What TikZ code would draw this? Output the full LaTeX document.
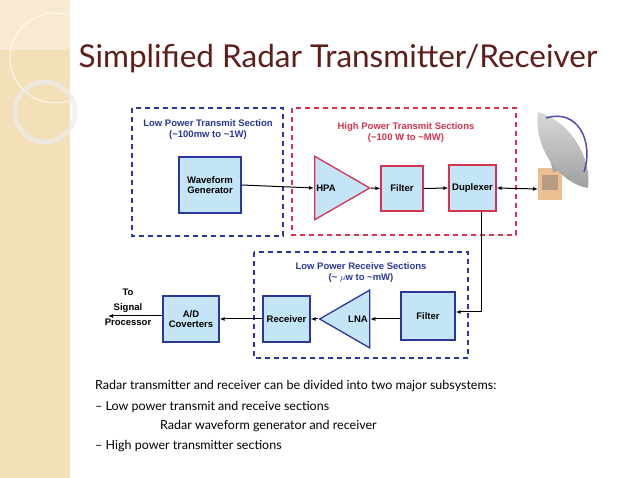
\documentclass[tikz,border=0pt]{standalone}
\usepackage{fontspec}
\setmainfont{Lato}
\newfontfamily\arialf{Liberation Sans}
\usetikzlibrary{arrows.meta,shapes.geometric}
\definecolor{bfill}{HTML}{C4E4F8}
\definecolor{bblue}{HTML}{2B379A}
\definecolor{rred}{HTML}{D5344F}
\definecolor{beige}{HTML}{F3E0B8}
\definecolor{ttl}{HTML}{5E1F1B}
\begin{document}
\begin{tikzpicture}[x=1pt,y=-1pt,
  blk/.style={draw=#1,line width=1.3pt,fill=bfill,font=\arialf\bfseries\fontsize{9.5}{10.5}\selectfont,align=center,inner sep=0pt},
  sec/.style={draw=#1,dashed,line width=1.6pt,dash pattern=on 5pt off 4pt},
  lab/.style={font=\arialf\bfseries\fontsize{9.5}{11}\selectfont,align=center,text=#1},
  arr/.style={-{Latex[length=5pt,width=4pt]},line width=1pt},
  body/.style={font=\fontsize{12.5}{14}\selectfont,anchor=west,inner sep=0pt}]
\useasboundingbox (0,0) rectangle (638,478);
\fill[white] (0,0) rectangle (638,478);
\fill[beige] (0,0) rectangle (70,478);
\fill[white,opacity=0.35] (0,0) rectangle (70,50);
\draw[white,line width=0.8pt,opacity=0.9] (55,58) circle (45);
\draw[white!85!gray,line width=5pt,opacity=0.7] (45,112) circle (30);
\node[font=\fontsize{31.5}{34}\selectfont,text=ttl] (title) at (338,59) {Simplified Radar Transmitter/Receiver};
% sections
\draw[sec=bblue] (132,108) rectangle (283,236);
\draw[sec=rred] (292,108) rectangle (516,235);
\draw[sec=bblue] (254,252) rectangle (468,358);
\node[lab=bblue] (l1) at (208,130) {Low Power Transmit Section\\(\textasciitilde100mw to \textasciitilde1W)};
\node[lab=rred] (l2) at (406,133) {High Power Transmit Sections\\(\textasciitilde100 W to \textasciitilde MW)};
\node[lab=bblue] (l3) at (361,273) {Low Power Receive Sections\\(\textasciitilde\ $\mu$w to \textasciitilde mW)};
% blocks
\node[blk=bblue,minimum width=62pt,minimum height=56pt] (wg) at (210,185) {Waveform\\Generator};
\node[blk=rred,isosceles triangle,isosceles triangle apex angle=60,minimum height=55pt,inner sep=0pt] (hpa) at (333,188) {};
\node[font=\arialf\bfseries\fontsize{9.5}{10.5}\selectfont] (hpal) at (326,188) {HPA};
\node[blk=rred,minimum width=42pt,minimum height=45pt] (ftx) at (402,188.5) {Filter};
\node[blk=rred,minimum width=47pt,minimum height=46pt] (dup) at (472.5,188) {Duplexer};
\node[blk=bblue,minimum width=54pt,minimum height=48pt] (frx) at (428,316) {Filter};
\node[blk=bblue,isosceles triangle,isosceles triangle apex angle=60,shape border rotate=180,minimum height=50pt,inner sep=0pt] (lna) at (353,319) {};
\node[font=\arialf\bfseries\fontsize{9.5}{10.5}\selectfont] (lnal) at (358,319) {LNA};
\node[blk=bblue,minimum width=47pt,minimum height=46pt] (rcv) at (286.5,319) {Receiver};
\node[blk=bblue,minimum width=56pt,minimum height=46pt] (ad) at (191,319) {A/D\\Coverters};
\node[font=\arialf\bfseries\fontsize{9.5}{15}\selectfont,align=center] (sp) at (128,307) {To\\Signal\\Processor};
\coordinate (spin) at (108,316);
% antenna
\fill[brown!60!orange!50] (538,168) rectangle (562,200);
\fill[brown!70!black!60] (542,175) rectangle (558,190);
\fill[gray!70] (548,150) -- (562,170) -- (553,172) -- cycle;
\shade[top color=gray!30,bottom color=gray!75] (538,112) .. controls (572,122) and (592,160) .. (588,188) .. controls (562,184) and (533,150) .. (538,112) -- cycle;
\draw[gray!60!blue,line width=1.5pt] (546,118) .. controls (578,108) and (594,142) .. (584,172);
\coordinate (ant) at (538,189);
% connectors
\draw[arr] (wg.east) -- (hpa.west);
\draw[arr] (hpa.apex) -- (ftx.west);
\draw[arr] (ftx.east) -- (dup.west);
\draw[{Latex[length=5pt,width=4pt]}-{Latex[length=5pt,width=4pt]},line width=1pt] (dup.east) -- (ant);
\draw[arr] (dup.south -| 481,0) |- (frx.east |- 0,312);
\draw[arr] (frx.west |- lna) -- (lna.west -| lna.east);
\draw[arr] (lna.apex) -- (rcv.east);
\draw[arr] (rcv.west) -- (ad.east);
\draw[arr] (ad.west |- spin) -- (spin);
% body text
\node[body] (t1) at (95,386) {Radar transmitter and receiver can be divided into two major subsystems:};
\node[body] (t2) at (95,407) {– Low power transmit and receive sections};
\node[body] (t3) at (160,426) {Radar waveform generator and receiver};
\node[body] (t4) at (95,446) {– High power transmitter sections};
\end{tikzpicture}
\end{document}
